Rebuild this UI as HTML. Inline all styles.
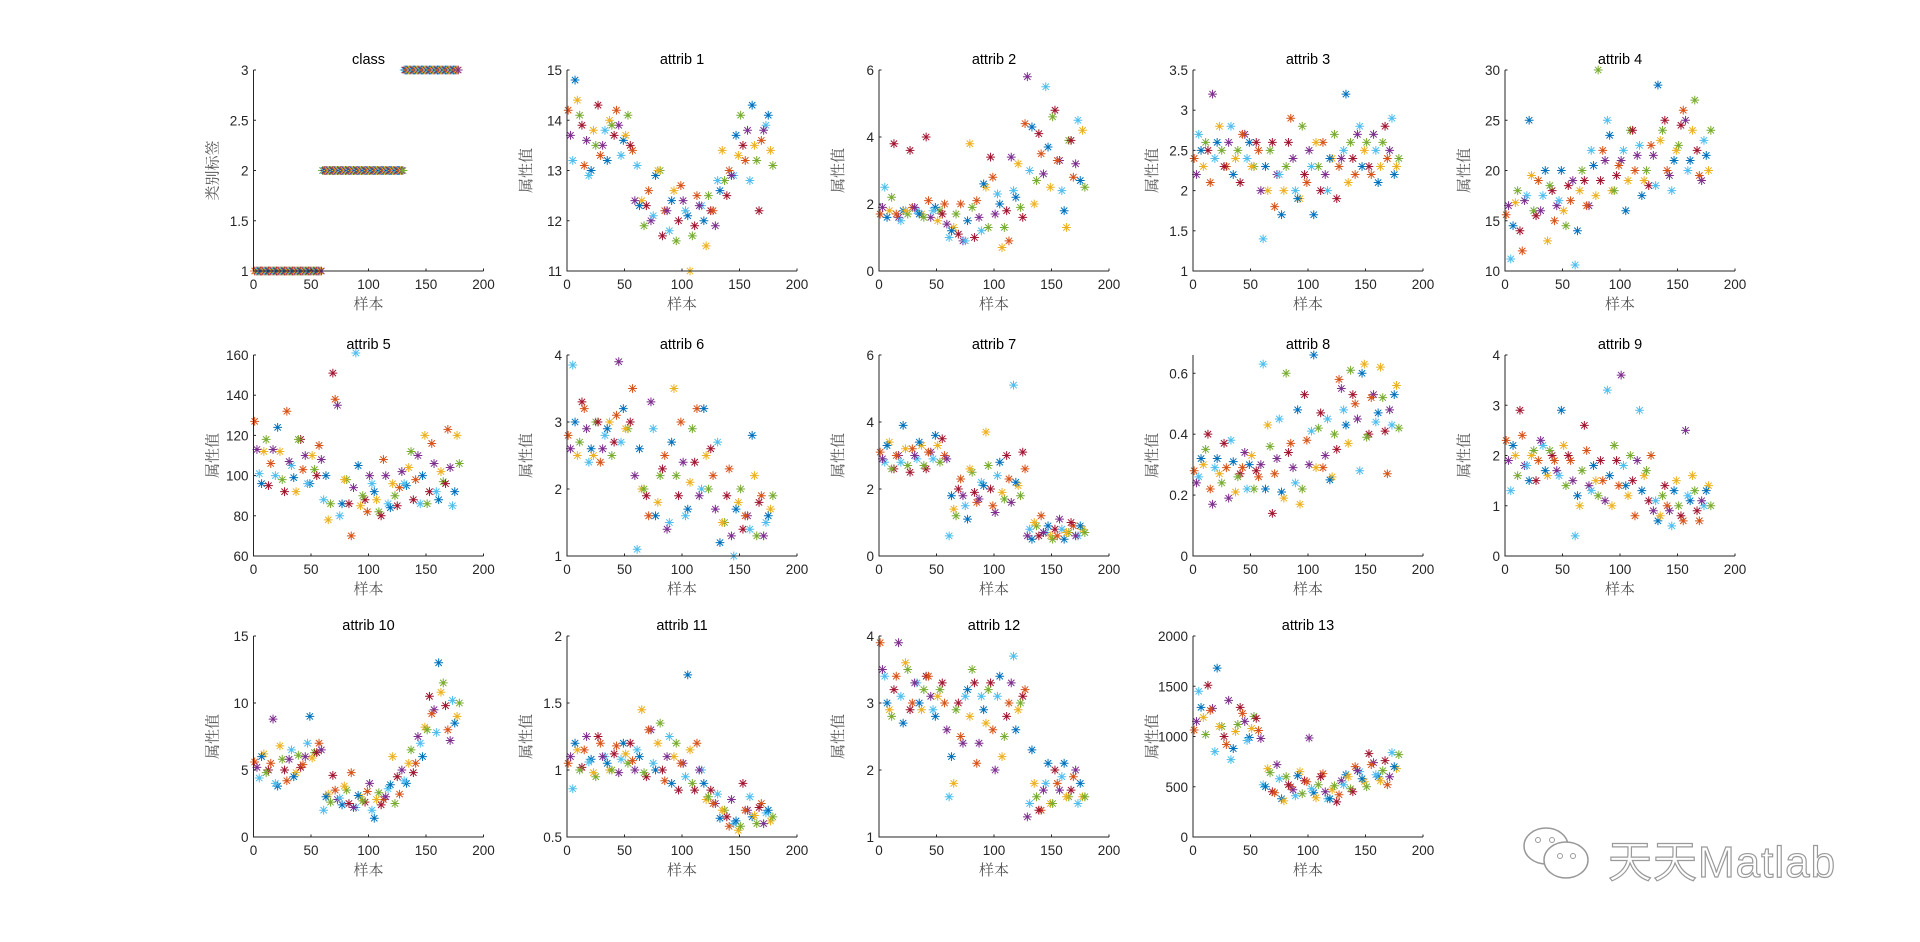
<!DOCTYPE html>
<html><head><meta charset="utf-8">
<style>
html,body{margin:0;padding:0;background:#fff;}
body{width:1920px;height:937px;overflow:hidden;position:relative;}
svg text{font-family:"Liberation Sans","Noto Sans CJK SC",sans-serif;}
.wm{position:absolute;left:1608px;top:826px;font-family:"Liberation Sans","Noto Sans CJK SC",sans-serif;font-size:44px;color:#fff;-webkit-text-stroke:1.2px #9a9a9a;letter-spacing:1px;}
</style></head>
<body>
<svg id="fig" width="1920" height="937" xmlns="http://www.w3.org/2000/svg"></svg>
<div class="wm">天天Matlab</div>
<svg style="position:absolute;left:1520px;top:822px" width="80" height="64">
<ellipse cx="26" cy="24" rx="22" ry="18" fill="#fff" stroke="#999" stroke-width="1.5"/>
<ellipse cx="46" cy="38" rx="22" ry="18" fill="#fff" stroke="#999" stroke-width="1.5"/>
<circle cx="18" cy="18" r="2.5" fill="none" stroke="#999"/><circle cx="32" cy="18" r="2.5" fill="none" stroke="#999"/>
<circle cx="40" cy="34" r="2.5" fill="none" stroke="#999"/><circle cx="53" cy="34" r="2.5" fill="none" stroke="#999"/>
</svg>
<script>
const titles=["class","attrib 1","attrib 2","attrib 3","attrib 4","attrib 5","attrib 6","attrib 7","attrib 8","attrib 9","attrib 10","attrib 11","attrib 12","attrib 13"];
const classVals=[1,1,1,1,1,1,1,1,1,1,1,1,1,1,1,1,1,1,1,1,1,1,1,1,1,1,1,1,1,1,1,1,1,1,1,1,1,1,1,1,1,1,1,1,1,1,1,1,1,1,1,1,1,1,1,1,1,1,1,
2,2,2,2,2,2,2,2,2,2,2,2,2,2,2,2,2,2,2,2,2,2,2,2,2,2,2,2,2,2,2,2,2,2,2,2,2,2,2,2,2,2,2,2,2,2,2,2,2,2,2,2,2,2,2,2,2,2,2,2,2,2,2,2,2,2,2,2,2,2,2,
3,3,3,3,3,3,3,3,3,3,3,3,3,3,3,3,3,3,3,3,3,3,3,3,3,3,3,3,3,3,3,3,3,3,3,3,3,3,3,3,3,3,3,3,3,3,3,3];
// samples 1,5,9,...
const a1=[14.2,13.2,14.4,13.9,13.6,13.0,13.5,13.3,13.8,14.0,13.7,13.9,13.6,14.1,13.4,13.1,12.4,12.3,12.0,12.9,13.0,12.2,11.8,12.6,12.0,12.4,12.1,11.7,12.5,12.3,11.5,12.2,11.9,12.6,12.8,13.0,12.9,13.3,13.5,13.8,14.3,13.2,13.6,13.9,13.4];
const a2=[1.7,2.5,1.8,3.8,1.6,1.8,1.7,1.9,1.8,1.7,4.0,1.6,1.9,1.8,2.0,1.0,1.3,1.1,0.9,1.5,1.9,2.1,1.2,2.5,3.4,1.7,2.0,1.3,0.9,2.4,3.2,1.6,5.8,4.3,2.7,3.5,5.5,2.5,4.8,3.3,1.8,3.9,2.8,4.5,4.2];
const a3=[2.4,2.7,2.3,2.5,3.2,2.6,2.5,2.3,2.8,2.4,2.1,2.7,2.6,2.3,2.5,1.4,2.0,2.6,2.2,1.7,2.3,2.9,2.0,1.9,2.2,2.5,1.7,2.3,2.6,2.0,2.4,1.9,2.4,3.2,2.6,2.2,2.8,2.5,2.3,2.7,2.1,2.6,2.4,2.9,2.3];
const a4=[15.6,11.2,16.8,14.0,17.0,25.0,16.0,19.0,17.5,13.0,18.0,16.5,20.0,14.5,17.0,10.6,18.0,19.0,16.5,20.5,30.0,22.0,25.0,18.0,19.5,21.0,16.0,24.0,20.0,22.5,19.0,18.5,21.5,28.5,24.0,20.0,18.0,22.0,24.5,25.0,21.0,27.0,19.5,23.0,20.0];
const a5=[127,101,112,95,113,124,98,132,105,92,118,110,96,103,115,88,78,151,135,86,98,70,161,85,88,100,92,82,108,86,96,85,102,95,112,98,86,120,92,106,88,97,123,85,120];
const a6=[2.8,3.85,2.5,3.3,2.9,2.6,3.0,2.4,2.8,3.0,2.7,3.9,3.2,2.9,3.5,1.1,2.0,1.9,3.3,1.6,2.2,2.5,1.5,3.5,1.9,2.4,1.7,2.9,3.2,2.0,2.5,2.6,1.7,1.2,1.5,2.3,1.0,1.8,1.4,1.6,2.8,1.3,1.9,1.5,1.7];
const a7=[3.1,2.8,3.4,2.6,3.0,3.9,2.7,3.2,2.9,3.3,2.6,3.1,3.6,2.8,3.0,0.6,1.4,2.0,1.8,1.1,2.5,1.6,2.2,3.7,2.0,1.3,2.8,1.7,2.3,5.1,2.1,3.1,0.6,0.5,0.9,1.2,0.7,0.6,0.8,1.1,0.5,0.7,0.9,0.6,0.8];
const a8=[0.28,0.26,0.30,0.40,0.17,0.32,0.24,0.29,0.38,0.21,0.27,0.34,0.30,0.22,0.26,0.63,0.43,0.14,0.32,0.21,0.60,0.37,0.24,0.17,0.53,0.30,0.66,0.42,0.29,0.45,0.26,0.35,0.55,0.43,0.61,0.50,0.28,0.63,0.40,0.53,0.47,0.52,0.27,0.43,0.56];
const a9=[2.3,1.3,2.0,2.9,1.8,1.5,2.1,1.9,2.2,1.6,2.0,1.7,2.9,1.4,1.9,0.4,1.0,2.6,1.4,1.8,1.2,1.5,3.3,1.0,1.9,3.6,1.4,2.0,0.8,2.9,1.6,1.1,0.9,0.7,1.2,1.0,0.6,1.5,0.8,2.5,1.1,1.3,0.7,1.0,1.4];
const a10=[5.6,4.4,6.2,5.0,8.8,3.8,5.8,4.2,6.5,4.8,5.2,6.0,9.0,6.3,7.0,2.0,3.2,4.6,2.8,2.4,3.5,4.8,2.2,3.0,2.6,4.0,1.4,3.3,2.8,3.6,6.0,4.5,5.0,4.0,6.5,5.5,7.0,8.2,10.5,9.5,13.0,11.5,8.0,10.2,9.0];
const a11=[1.05,0.86,1.15,1.02,1.25,1.08,0.95,1.2,1.1,1.0,1.12,0.98,1.2,1.05,1.07,1.15,1.45,0.95,1.3,1.0,1.35,0.92,1.25,1.1,0.85,1.05,1.71,0.9,1.2,1.0,0.78,0.85,0.75,0.64,0.7,0.58,0.6,0.55,0.9,0.7,0.65,0.6,0.75,0.68,0.62];
const a12=[3.9,3.4,2.9,3.2,3.9,2.7,3.5,3.0,3.3,2.9,3.4,3.1,2.8,3.2,3.0,1.6,1.8,3.0,2.4,3.2,3.5,2.1,3.1,2.7,3.3,2.0,3.4,2.5,3.0,3.7,2.9,3.1,1.3,2.3,1.6,1.4,1.8,1.5,2.0,1.7,2.1,1.6,1.9,1.5,1.6];
const a13=[1065,1450,1190,1510,1280,1680,1100,920,770,1050,1290,1150,990,1200,1060,520,680,450,720,380,600,500,410,650,560,985,440,520,630,380,470,350,560,620,480,700,650,550,830,740,600,660,520,840,680];
// samples 3,7,11,...
const b1=[13.7,14.8,14.1,13.1,12.9,13.8,14.3,13.5,13.2,13.9,14.2,13.3,13.7,13.5,12.4,12.3,11.9,12.6,12.1,13.0,11.7,12.2,12.4,11.6,12.7,12.2,11.0,11.9,12.3,12.0,12.5,12.2,12.8,13.4,12.5,12.9,13.7,14.1,13.2,12.8,13.5,12.2,13.8,14.1,13.1];
const b2=[1.9,1.6,2.2,1.7,1.5,1.8,3.6,1.9,1.7,1.6,2.1,1.8,1.5,1.7,1.4,1.2,1.7,2.0,0.9,3.8,1.0,1.6,2.6,1.3,2.8,2.3,0.7,1.8,3.4,2.2,1.9,4.4,3.0,2.0,4.1,2.9,3.7,4.6,3.3,2.4,1.3,3.9,3.2,2.7,2.5];
const b3=[2.2,2.5,2.6,2.1,2.4,2.8,2.3,2.6,2.2,2.5,2.7,2.4,2.3,2.6,2.0,2.3,2.5,1.8,2.2,2.0,2.6,2.4,1.9,2.8,2.1,2.3,2.6,2.0,2.2,2.4,2.7,2.3,2.5,2.1,2.4,2.7,2.3,2.6,2.2,2.5,2.3,2.8,2.5,2.2,2.4];
const b4=[16.5,14.5,18.0,12.0,17.5,19.5,15.5,16.0,20.0,18.5,15.0,17.0,16.0,18.5,19.0,14.0,20.0,16.5,22.0,17.5,19.0,21.0,23.5,18.0,20.5,22.0,19.0,24.0,21.5,17.5,20.0,22.5,18.5,23.0,25.0,19.5,21.0,22.5,26.0,20.0,24.0,22.0,19.0,21.5,24.0];
const b5=[113,96,118,106,100,112,92,107,99,118,103,96,110,100,108,100,86,138,80,98,86,94,105,90,82,96,88,80,100,84,90,94,96,104,88,110,100,86,116,92,102,96,104,92,106];
const b6=[2.6,3.0,2.7,3.2,2.4,2.5,3.0,2.6,2.9,2.5,3.1,2.7,2.9,3.0,2.2,2.6,2.0,1.6,2.9,1.8,2.3,1.4,2.7,2.2,3.0,1.6,2.1,2.4,1.9,3.2,2.0,2.2,2.7,1.5,1.9,1.3,1.7,2.0,1.6,1.4,2.2,1.8,1.3,1.6,1.9];
const b7=[2.9,3.3,2.6,3.0,2.8,3.2,2.5,3.0,3.4,2.7,3.1,2.9,3.3,3.5,2.9,1.8,1.2,2.3,1.5,2.6,1.9,1.7,2.1,2.7,1.5,2.4,1.9,3.0,1.6,2.2,1.8,2.6,0.8,1.0,0.6,0.7,0.9,0.5,0.6,0.8,0.7,1.0,0.6,0.9,0.7];
const b8=[0.24,0.32,0.35,0.22,0.29,0.27,0.37,0.19,0.31,0.26,0.29,0.22,0.33,0.28,0.30,0.22,0.36,0.27,0.45,0.19,0.34,0.29,0.48,0.22,0.38,0.41,0.29,0.47,0.33,0.25,0.40,0.58,0.48,0.37,0.53,0.45,0.60,0.39,0.52,0.44,0.62,0.41,0.48,0.53,0.42];
const b9=[1.9,2.2,1.6,2.4,1.8,2.0,1.5,2.3,1.7,2.1,1.9,1.6,2.2,2.0,1.5,1.2,1.7,2.1,1.3,1.5,1.9,1.1,1.6,2.2,1.4,1.8,1.2,1.5,1.9,1.3,1.7,2.0,1.1,0.8,1.4,0.9,1.3,1.0,0.7,1.2,1.6,0.9,1.1,1.3,1.0];
const b10=[5.2,6.0,4.8,5.5,4.0,6.8,5.0,5.8,4.5,6.1,5.4,7.0,5.9,6.3,6.5,3.0,2.6,3.5,2.9,3.8,2.5,2.2,3.1,2.7,3.4,2.0,2.8,2.4,3.0,3.9,2.5,3.2,4.2,5.5,4.8,7.5,6.0,8.0,9.2,7.8,10.8,9.8,7.2,8.5,10.0];
const b11=[1.1,1.2,1.0,1.15,1.06,0.98,1.25,1.1,1.05,1.0,1.18,1.08,1.12,1.2,1.0,1.1,0.98,1.3,1.05,1.2,1.0,1.1,0.9,1.2,1.05,0.95,1.15,0.85,1.0,0.9,0.8,0.75,0.82,0.7,0.65,0.78,0.62,0.58,0.7,0.8,0.66,0.72,0.6,0.7,0.65];
const b12=[3.5,3.0,2.8,3.4,3.1,3.6,2.9,3.3,3.0,3.2,3.4,2.9,3.1,3.3,2.6,2.2,2.9,2.5,3.1,2.8,3.3,2.4,2.9,3.2,2.6,3.1,2.2,2.8,3.3,2.6,3.0,3.2,1.5,1.8,1.4,1.7,2.1,1.5,1.8,1.9,1.6,1.7,2.0,1.8,1.6];
const b13=[1150,1290,1020,1260,850,1100,1000,1360,880,1120,1230,960,1080,1180,980,500,640,440,580,360,520,470,610,430,550,480,390,600,450,380,510,420,520,600,450,660,580,500,720,620,560,760,600,700,820];
const yMins=[1,11,0,1,10,60,1,0,0,0,0,0.5,1,0];
const yMaxs=[3,15,6,3.5,30,160,4,6,0.66,4,15,2,4,2000];
const yTicks=[[1,1.5,2,2.5,3],[11,12,13,14,15],[0,2,4,6],[1,1.5,2,2.5,3,3.5],[10,15,20,25,30],[60,80,100,120,140,160],[1,2,3,4],[0,2,4,6],[0,0.2,0.4,0.6],[0,1,2,3,4],[0,5,10,15],[0.5,1,1.5,2],[1,2,3,4],[0,500,1000,1500,2000]];
const xTicks=[0,50,100,150,200];
const seriesA=[classVals,a1,a2,a3,a4,a5,a6,a7,a8,a9,a10,a11,a12,a13];
const seriesB=[[],b1,b2,b3,b4,b5,b6,b7,b8,b9,b10,b11,b12,b13];
const colors=["#0072BD","#D95319","#EDB120","#7E2F8E","#77AC30","#4DBEEE","#A2142F"];
const NS="http://www.w3.org/2000/svg";
const fig=document.getElementById('fig');
const colL=[253.5,567,879,1193,1505], rowT=[70,355,636], W=230, H=201;
function el(tag,attrs,parent){const e=document.createElementNS(NS,tag);for(const k in attrs)e.setAttribute(k,attrs[k]);parent.appendChild(e);return e;}
for(let p=0;p<14;p++){
  const L=colL[p%5],T=rowT[Math.floor(p/5)];
  const g=el('g',{},fig);
  
  
  const ymin=yMins[p],ymax=yMaxs[p];
  const sx=v=>L+v/200*W, sy=v=>T+H-(v-ymin)/(ymax-ymin)*H;
  const step=p===0?1:4;
  const drawSet=(vals,off)=>vals.forEach((v,i)=>{
    const s=off+i*step;
    const x=sx(s),y=sy(v),c=colors[s%7],r=4.4,d=r*0.72;
    const m=el('path',{d:`M${x-r},${y}H${x+r}M${x},${y-r}V${y+r}M${x-d},${y-d}L${x+d},${y+d}M${x-d},${y+d}L${x+d},${y-d}`,stroke:c,'stroke-width':1,fill:'none'},g);
    
    
  });
  drawSet(seriesA[p],1);
  drawSet(seriesB[p],3);
  const ax=el('path',{d:`M${L},${T}V${T+H}H${L+W}`,stroke:'#262626','stroke-width':1,fill:'none'},g);
  
  
  yTicks[p].forEach(t=>{
    const y=sy(t);
    el('path',{d:`M${L},${y}h2.5`,stroke:'#262626'},g);
    const tx=el('text',{x:L-5,y:y+5,'text-anchor':'end','font-size':'13.5',fill:'#262626'},g);
    tx.textContent=String(t);
    
    
  });
  xTicks.forEach(t=>{
    const x=sx(t);
    el('path',{d:`M${x},${T+H}v-2.5`,stroke:'#262626'},g);
    const tx=el('text',{x:x,y:T+H+18,'text-anchor':'middle','font-size':'13.5',fill:'#262626'},g);
    tx.textContent=String(t);
    
    
  });
  const ti=el('text',{x:L+W/2,y:T-6,'text-anchor':'middle','font-size':'14.5',fill:'#000'},g);
  ti.textContent=titles[p];
  
  
  const xl=el('text',{x:L+W/2,y:T+H+38,'text-anchor':'middle','font-size':'15',fill:'#555','style':'font-family:"Noto Serif CJK SC",serif'},g);
  xl.textContent='样本';
  
  
  const yx=L-36,yy=T+H/2;
  const yl=el('text',{x:yx,y:yy,'text-anchor':'middle','font-size':'15',fill:'#555',transform:`rotate(-90 ${yx} ${yy})`,'style':'font-family:"Noto Serif CJK SC",serif'},g);
  yl.textContent=p===0?'类别标签':'属性值';
  
  
}
</script>
</body></html>
